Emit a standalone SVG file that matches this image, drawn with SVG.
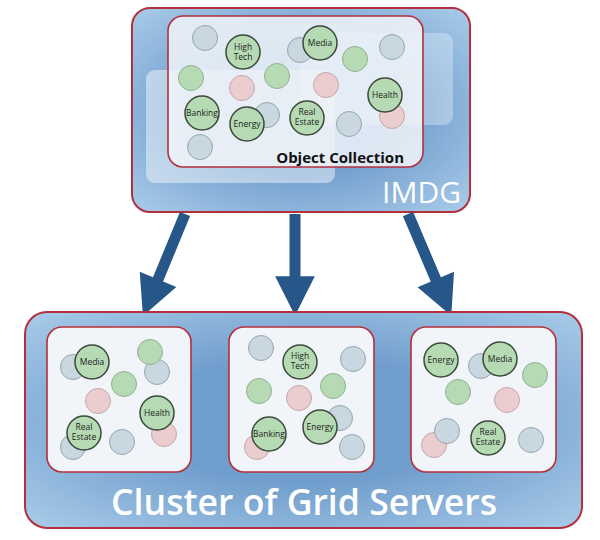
<svg xmlns="http://www.w3.org/2000/svg" width="600" height="540" viewBox="0 0 600 540">
<defs>
<radialGradient id="bg" cx="50%" cy="50%" r="70%"><stop offset="0.4" stop-color="#6f9dcc"/><stop offset="1" stop-color="#a9cbe9"/></radialGradient>
<marker id="ah" viewBox="0 0 10 10" refX="4" refY="5" markerWidth="4" markerHeight="3.6" orient="auto" markerUnits="strokeWidth"><path d="M0,0 L10,5 L0,10 Z" fill="#275688"/></marker>
<style>
.outer{fill:url(#bg);stroke:#b3303d;stroke-width:2}
.inner{fill:#f1f4f9;stroke:#b3303d;stroke-width:1.6}
.g{fill:#b6dbb4;stroke:#8fb08e;stroke-width:1}
.gl{fill:#b6dbb4;stroke:#3c4a3c;stroke-width:1.5}
.b{fill:#c9d7e0;stroke:#97a5ae;stroke-width:1}
.p{fill:#ebcdd0;stroke:#c3a7aa;stroke-width:1}
.lab{font-family:"Open Sans","DejaVu Sans",sans-serif;font-size:8.5px;fill:#222;text-anchor:middle}
.conn{stroke:#275688;stroke-width:11;fill:none}
</style>
</defs>
<g id="imdg">
<rect class="outer" x="132" y="8" width="338" height="204" rx="18"/>
<rect x="146" y="70" width="189" height="113" rx="9" fill="#ffffff" fill-opacity="0.45"/>
<rect x="300" y="33" width="153" height="92" rx="9" fill="#ffffff" fill-opacity="0.3"/>
<text x="461" y="203" font-family="'Open Sans','DejaVu Sans',sans-serif" font-size="30" fill="#fff" text-anchor="end">IMDG</text>
</g>
<g id="object-collection">
<rect class="inner" x="168" y="16" width="255" height="151" rx="15" fill-opacity="0.85"/>
<circle class="b" cx="205" cy="38" r="12.5"/>
<circle class="b" cx="300" cy="50" r="12.5"/>
<circle class="g" cx="355" cy="59" r="12.5"/>
<circle class="b" cx="392" cy="47" r="12.5"/>
<circle class="g" cx="191" cy="78" r="12.5"/>
<circle class="p" cx="242" cy="88" r="12.5"/>
<circle class="g" cx="277" cy="76" r="12.5"/>
<circle class="p" cx="326" cy="85" r="12.5"/>
<circle class="p" cx="392" cy="116" r="12.5"/>
<circle class="b" cx="267" cy="115" r="12.5"/>
<circle class="b" cx="349" cy="124" r="12.5"/>
<circle class="b" cx="200" cy="147" r="12.5"/>
<circle class="gl" cx="243" cy="52" r="17"/><text class="lab" x="243" y="50">High</text><text class="lab" x="243" y="60">Tech</text>
<circle class="gl" cx="320" cy="43" r="17"/><text class="lab" x="320" y="46">Media</text>
<circle class="gl" cx="385" cy="95" r="17"/><text class="lab" x="385" y="98">Health</text>
<circle class="gl" cx="202" cy="113" r="17"/><text class="lab" x="202" y="116">Banking</text>
<circle class="gl" cx="247" cy="124" r="17"/><text class="lab" x="247" y="127">Energy</text>
<circle class="gl" cx="307" cy="118" r="17"/><text class="lab" x="307" y="115">Real</text><text class="lab" x="307" y="125">Estate</text>
<text x="404" y="163" font-family="'Open Sans','DejaVu Sans',sans-serif" font-weight="bold" font-size="15" fill="#111" text-anchor="end">Object Collection</text>
</g>
<g id="connectors">
<line class="conn" x1="185" y1="214" x2="152" y2="294" marker-end="url(#ah)"/>
<line class="conn" x1="295" y1="214" x2="295" y2="292" marker-end="url(#ah)"/>
<line class="conn" x1="408" y1="214" x2="442" y2="294" marker-end="url(#ah)"/>
</g>
<g id="cluster">
<rect class="outer" x="25" y="312" width="557" height="216" rx="22"/>
<text x="304" y="515" font-family="'Open Sans','DejaVu Sans',sans-serif" font-weight="600" font-size="36" fill="#fff" text-anchor="middle" textLength="386" lengthAdjust="spacingAndGlyphs">Cluster of Grid Servers</text>
</g>
<g id="server1">
<rect class="inner" x="47" y="327" width="144" height="145" rx="15"/>
<circle class="b" cx="73" cy="367" r="12.5"/>
<circle class="b" cx="157" cy="372" r="12.5"/>
<circle class="g" cx="150" cy="352" r="12.5"/>
<circle class="g" cx="124" cy="384" r="12.5"/>
<circle class="p" cx="98" cy="401" r="12.5"/>
<circle class="p" cx="164" cy="434" r="12.5"/>
<circle class="b" cx="73" cy="447" r="12.5"/>
<circle class="b" cx="122" cy="442" r="12.5"/>
<circle class="gl" cx="92" cy="362" r="17"/><text class="lab" x="92" y="365">Media</text>
<circle class="gl" cx="157" cy="413" r="17"/><text class="lab" x="157" y="416">Health</text>
<circle class="gl" cx="84" cy="433" r="17"/><text class="lab" x="84" y="430">Real</text><text class="lab" x="84" y="440">Estate</text>
</g>
<g id="server2">
<rect class="inner" x="229" y="327" width="145" height="145" rx="15"/>
<circle class="b" cx="261" cy="348" r="12.5"/>
<circle class="b" cx="353" cy="359" r="12.5"/>
<circle class="g" cx="259" cy="391" r="12.5"/>
<circle class="p" cx="299" cy="398" r="12.5"/>
<circle class="g" cx="333" cy="386" r="12.5"/>
<circle class="b" cx="340" cy="418" r="12.5"/>
<circle class="p" cx="257" cy="447" r="12.5"/>
<circle class="b" cx="352" cy="447" r="12.5"/>
<circle class="gl" cx="300" cy="362" r="17"/><text class="lab" x="300" y="359">High</text><text class="lab" x="300" y="369">Tech</text>
<circle class="gl" cx="269" cy="434" r="17"/><text class="lab" x="269" y="437">Banking</text>
<circle class="gl" cx="320" cy="427" r="17"/><text class="lab" x="320" y="430">Energy</text>
</g>
<g id="server3">
<rect class="inner" x="411" y="327" width="145" height="145" rx="15"/>
<circle class="b" cx="481" cy="366" r="12.5"/>
<circle class="g" cx="535" cy="375" r="12.5"/>
<circle class="g" cx="458" cy="392" r="12.5"/>
<circle class="p" cx="507" cy="400" r="12.5"/>
<circle class="p" cx="434" cy="445" r="12.5"/>
<circle class="b" cx="447" cy="431" r="12.5"/>
<circle class="b" cx="531" cy="440" r="12.5"/>
<circle class="gl" cx="441" cy="360" r="17"/><text class="lab" x="441" y="363">Energy</text>
<circle class="gl" cx="500" cy="359" r="17"/><text class="lab" x="500" y="362">Media</text>
<circle class="gl" cx="488" cy="438" r="17"/><text class="lab" x="488" y="435">Real</text><text class="lab" x="488" y="445">Estate</text>
</g>
</svg>
